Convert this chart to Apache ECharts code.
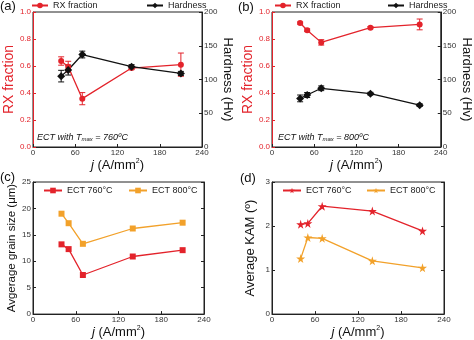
<!DOCTYPE html>
<html><head><meta charset="utf-8">
<script src="https://cdn.jsdelivr.net/npm/echarts@6/dist/echarts.min.js"></script>
<style>html,body{margin:0;padding:0;background:#fff}#c{width:474px;height:340px}</style>
</head><body><div id="c"></div>
<script>
const xVals = [40, 50, 70, 140, 210];
const xTicks = [0, 60, 120, 180, 240];
const rx760 = [0.637, 0.595, 0.358, 0.585, 0.61];
const rx760Err = [0.031, 0.04, 0.045, 0.012, 0.086];
const hv760 = [105, 114, 137, 119, 109];
const hv760Err = [8.6, 7.4, 5, 3, 3];
const rx800 = [0.918, 0.865, 0.775, 0.884, 0.908];
const rx800Err = [0.008, 0.01, 0.02, 0.008, 0.04];
const hv800 = [72, 77, 87, 79, 62];
const hv800Err = [5, 3.7, 3.5, 2, 2];
const grain760 = [13.2, 12.3, 7.4, 10.9, 12.1];
const grain800 = [19.0, 17.2, 13.3, 16.2, 17.3];
const kam760 = [2.04, 2.06, 2.45, 2.34, 1.89];
const kam800 = [1.26, 1.74, 1.72, 1.21, 1.05];

const RED = '#e3232b', ORANGE = '#f2a12a', BLACK = '#111';
const FONT = 'Liberation Sans, Arial, sans-serif';
const STAR = 'path://M50,0 L61,35 L98,35 L68,57 L79,91 L50,70 L21,91 L32,57 L2,35 L39,35 Z';

const chart = echarts.init(document.getElementById('c'), null, {renderer: 'canvas'});

const grids = [
  {left: 33, top: 12, width: 169, height: 135},
  {left: 272, top: 12, width: 169, height: 135},
  {left: 33, top: 182, width: 171, height: 136},
  {left: 272, top: 182, width: 172, height: 135}
].map(g => Object.assign({show: true, borderColor: '#222', borderWidth: 1, backgroundColor: 'transparent'}, g));

const xAxis = grids.map((g, i) => ({
  type: 'value', gridIndex: i, min: xTicks[0], max: xTicks[xTicks.length - 1], interval: 60,
  axisLine: {lineStyle: {color: '#222', width: 1}},
  axisTick: {inside: true, length: 3, lineStyle: {color: '#222'}},
  axisLabel: {fontSize: 8, color: '#333', margin: 2, fontFamily: FONT},
  splitLine: {show: false},
  name: '{i|j} (A/mm{s|2})', nameLocation: 'middle', nameGap: 10,
  nameTextStyle: {fontSize: 13, color: '#111', fontFamily: FONT, verticalAlign: 'top',
    rich: {i: {fontSize: 13, fontStyle: 'italic', fontFamily: FONT, color: '#111'},
           s: {fontSize: 7, fontFamily: FONT, color: '#111', padding: [0, 0, 8, 0]}}}
}));

function yAx(grid, pos, min, max, interval, color, name, gap, fs, rot, dec, showLabel) {
  return {
    type: 'value', gridIndex: grid, position: pos, min: min, max: max, interval: interval,
    axisLine: {show: true, lineStyle: {color: color, width: 1}},
    axisTick: {show: true, inside: true, length: 3, lineStyle: {color: color}},
    axisLabel: {show: showLabel !== false, fontSize: 8, color: color === '#222' ? '#333' : color, margin: 2, fontFamily: FONT,
      formatter: v => dec ? v.toFixed(dec) : String(v)},
    splitLine: {show: false},
    name: name, nameLocation: 'middle', nameGap: gap, nameRotate: rot,
    nameTextStyle: {fontSize: fs, color: color === '#222' ? '#111' : color, fontFamily: FONT}
  };
}

const yAxis = [
  yAx(0, 'left', 0, 1, 0.2, RED, 'RX fraction', 17, 14, 90, 1),
  yAx(0, 'right', 0, 200, 50, '#222', 'Hardness (Hv)', 19, 13, -90, 0),
  yAx(1, 'left', 0, 1, 0.2, RED, 'RX fraction', 17, 14, 90, 1),
  yAx(1, 'right', 0, 200, 50, '#222', 'Hardness (Hv)', 19, 13, -90, 0),
  yAx(2, 'left', 0, 25, 5, '#222', 'Avgerage grain size (\u03bcm)', 15, 11.5, 90, 0),
  yAx(3, 'left', 0, 3, 1, '#222', 'Average KAM (\u00ba)', 15, 13, 90, 0),
  yAx(2, 'right', 0, 25, 5, '#222', '', 0, 13, 0, 0, false),
  yAx(3, 'right', 0, 3, 1, '#222', '', 0, 13, 0, 0, false)
];

function pairs(ys) { return xVals.map((x, i) => [x, ys[i]]); }
function errData(ys, es) { return xVals.map((x, i) => [x, ys[i] - es[i], ys[i] + es[i]]); }

function lineSeries(name, ys, xi, yi, color, symbol, size) {
  return {type: 'line', name: name, xAxisIndex: xi, yAxisIndex: yi, data: pairs(ys),
    symbol: symbol, symbolSize: size, showSymbol: true,
    lineStyle: {color: color, width: 1.3}, itemStyle: {color: color}, z: 3};
}
function errSeries(ys, es, xi, yi, color) {
  return {type: 'custom', xAxisIndex: xi, yAxisIndex: yi, data: errData(ys, es), z: 2,
    encode: {x: 0, y: [1, 2]},
    renderItem: function (params, api) {
      const x = api.value(0);
      const p1 = api.coord([x, api.value(1)]), p2 = api.coord([x, api.value(2)]);
      const w = 3;
      const st = {stroke: color, lineWidth: 1};
      return {type: 'group', children: [
        {type: 'line', shape: {x1: p1[0], y1: p1[1], x2: p2[0], y2: p2[1]}, style: st},
        {type: 'line', shape: {x1: p1[0] - w, y1: p1[1], x2: p1[0] + w, y2: p1[1]}, style: st},
        {type: 'line', shape: {x1: p2[0] - w, y1: p2[1], x2: p2[0] + w, y2: p2[1]}, style: st}
      ]};
    }};
}

const series = [
  errSeries(rx760, rx760Err, 0, 0, RED),
  errSeries(hv760, hv760Err, 0, 1, BLACK),
  lineSeries('RX fraction', rx760, 0, 0, RED, 'circle', 6),
  lineSeries('Hardness', hv760, 0, 1, BLACK, 'diamond', 8),
  errSeries(rx800, rx800Err, 1, 2, RED),
  errSeries(hv800, hv800Err, 1, 3, BLACK),
  lineSeries('RX fraction ', rx800, 1, 2, RED, 'circle', 6),
  lineSeries('Hardness ', hv800, 1, 3, BLACK, 'diamond', 8),
  lineSeries('ECT 760\u00b0C', grain760, 2, 4, RED, 'rect', 6),
  lineSeries('ECT 800\u00b0C', grain800, 2, 4, ORANGE, 'rect', 6),
  lineSeries('ECT 760\u00b0C ', kam760, 3, 5, RED, STAR, 9),
  lineSeries('ECT 800\u00b0C ', kam800, 3, 5, ORANGE, STAR, 9)
];

function leg(name, left, top, w) {
  return {data: [name], left: left, top: top, itemWidth: w, itemHeight: 7, itemGap: 4, padding: 0,
    textStyle: {fontSize: 9, color: '#222', fontFamily: FONT},
    formatter: n => n.trim(), selectedMode: false};
}
const legend = [
  leg('RX fraction', 31, 1, 16), leg('Hardness', 146, 1, 16),
  leg('RX fraction ', 274, 1, 16), leg('Hardness ', 387, 1, 16),
  leg('ECT 760\u00b0C', 43, 186, 18), leg('ECT 800\u00b0C', 128, 186, 18),
  leg('ECT 760\u00b0C ', 282, 186, 18), leg('ECT 800\u00b0C ', 366, 186, 18)
];

function label(t, x, y) {
  return {type: 'text', left: x, top: y, style: {text: t, fontSize: 13, fill: '#111', fontFamily: FONT}};
}
function annot(t, x, y) {
  return {type: 'text', left: x, top: y, style: {
    text: '{a|ECT with T}{b|max}{a| = ' + t + '}',
    rich: {a: {fontSize: 9, fontStyle: 'italic', fill: '#111', fontFamily: FONT, verticalAlign: 'bottom'},
           b: {fontSize: 6, fontStyle: 'italic', fill: '#111', fontFamily: FONT, verticalAlign: 'bottom'}}
  }};
}

chart.setOption({
  animation: false,
  textStyle: {fontFamily: FONT},
  grid: grids, xAxis: xAxis, yAxis: yAxis, series: series, legend: legend,
  graphic: [
    label('(a)', 0, 0), label('(b)', 238, 1), label('(c)', 0, 171), label('(d)', 240, 172),
    annot('760\u00baC', 37, 133), annot('800\u00baC', 278, 133)
  ]
});
</script></body></html>
